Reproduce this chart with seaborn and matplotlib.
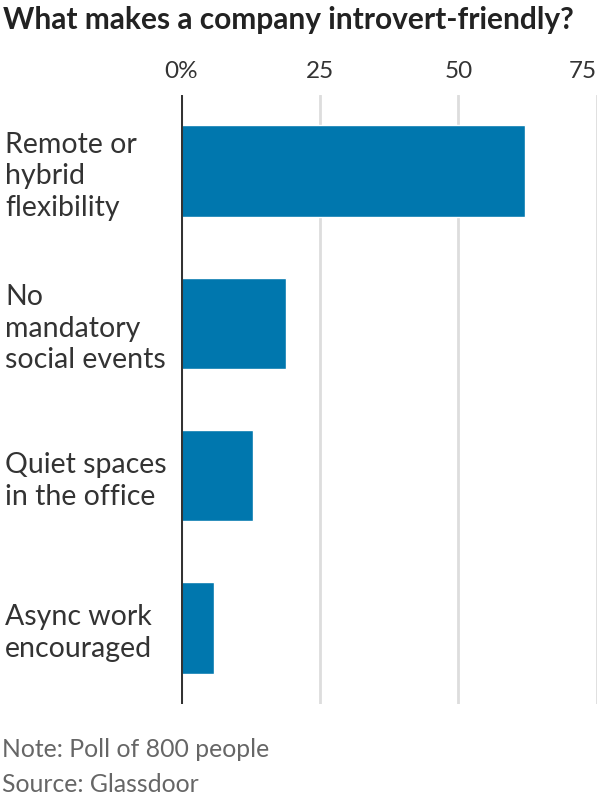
import matplotlib
matplotlib.use("Agg")
import matplotlib.pyplot as plt
import seaborn as sns
import pandas as pd

categories = ["Remote or\nhybrid\nflexibility", "No\nmandatory\nsocial events",
              "Quiet spaces\nin the office", "Async work\nencouraged"]
values = [62, 19, 13, 6]
tick_values = [0, 25, 50, 75]
tick_labels = ["0%", "25", "50", "75"]

df = pd.DataFrame({"category": categories, "value": values})

sns.set_theme(style="white")
plt.rcParams["font.family"] = ["Lato", "DejaVu Sans"]

DARK = "#333333"
fig = plt.figure(figsize=(6, 8), dpi=100)
ax = fig.add_axes([181/600, 1 - 704/800, (597-181)/600, (704-95)/800])

sns.barplot(data=df, x="value", y="category", color="#0077ae", saturation=1,
            width=0.6, ax=ax, orient="h")

ax.set_xlim(0, 75)
ax.set_ylim(3.5, -0.5)
ax.set_xlabel("")
ax.set_ylabel("")
for s in ax.spines.values():
    s.set_visible(False)

ax.xaxis.tick_top()
ax.set_xticks(tick_values)
ax.set_xticklabels(tick_labels)
ax.tick_params(axis="x", length=0, pad=9, labelsize=17.5, labelcolor=DARK)
lbls = ax.get_xticklabels()
lbls[-1].set_ha("right")
for v in tick_values[1:]:
    ax.axvline(v, color="#dddddd", lw=2, zorder=0)
ax.axvline(0, color=DARK, lw=2.2, zorder=3)

ax.tick_params(axis="y", length=0, pad=176*72/100, labelsize=20.5, labelcolor=DARK)
for t in ax.get_yticklabels():
    t.set_ha("left")
    t.set_linespacing(1.26)

fig.text(3/600, 1 - 29/800, "What makes a company introvert-friendly?",
         fontsize=21.5, fontweight="bold", color="#222222", ha="left", va="baseline")
fig.text(2/600, 1 - 757/800, "Note: Poll of 800 people", fontsize=17.8,
         color="#666666", ha="left", va="baseline")
fig.text(2/600, 1 - 792/800, "Source: Glassdoor", fontsize=17.8,
         color="#666666", ha="left", va="baseline")

fig.savefig("out.png", dpi=100)
